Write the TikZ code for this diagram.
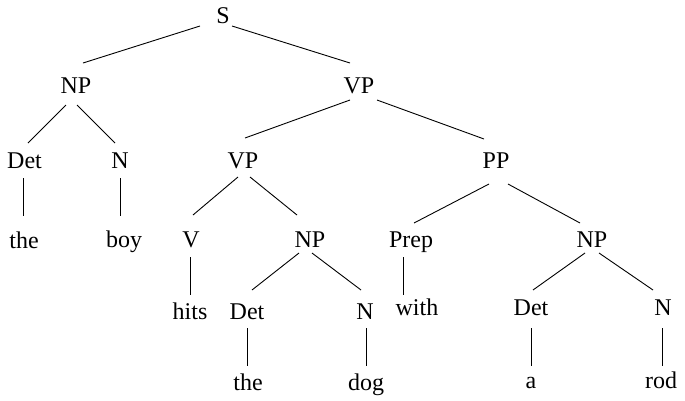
\documentclass[tikz,border=0pt]{standalone}
\usepackage{fontspec}
\setmainfont{Liberation Serif}
\usetikzlibrary{calc}
\begin{document}
\begin{tikzpicture}[x=1pt,y=-1pt,
  lbl/.style={inner sep=0pt, anchor=base, font=\fontsize{24}{28}\selectfont},
  edge/.style={line width=0.9pt}]
\useasboundingbox (0,0) rectangle (685,400);
% nodes (base points)
\node[lbl] (S) at (223,23) {S};
\node[lbl] (NPa) at (76,93) {NP};
\node[lbl] (VPa) at (359,93) {VP};
\node[lbl] (Deta) at (24.5,168) {Det};
\node[lbl] (Na) at (120,168) {N};
\node[lbl] (VPb) at (243,168) {VP};
\node[lbl] (PP) at (496,168) {PP};
\node[lbl] (thea) at (24,248) {the};
\node[lbl] (boy) at (124,247) {boy};
\node[lbl] (V) at (191,247) {V};
\node[lbl] (NPb) at (310,247) {NP};
\node[lbl] (Prep) at (411,247) {Prep};
\node[lbl] (NPc) at (592,247) {NP};
\node[lbl] (hits) at (190,319) {hits};
\node[lbl] (Detb) at (247,319) {Det};
\node[lbl] (Nb) at (365,319) {N};
\node[lbl] (with) at (417,315) {with};
\node[lbl] (Detc) at (531,315) {Det};
\node[lbl] (Nc) at (663,315) {N};
\node[lbl] (theb) at (248,390) {the};
\node[lbl] (dog) at (366,390) {dog};
\node[lbl] (a) at (531,388) {a};
\node[lbl] (rod) at (661,388) {rod};
% edges
\draw[edge] ($(S.base)+(-23,3)$) -- ($(NPa.base)+(7,-30)$);
\draw[edge] ($(S.base)+(9,3)$) -- ($(VPa.base)+(-9,-30)$);
\draw[edge] ($(NPa.base)+(-10,12)$) -- ($(Deta.base)+(3.5,-25)$);
\draw[edge] ($(NPa.base)+(1,12)$) -- ($(Na.base)+(-5,-25)$);
\draw[edge] ($(VPa.base)+(-9,7)$) -- ($(VPb.base)+(2,-30)$);
\draw[edge] ($(VPa.base)+(18,7)$) -- ($(PP.base)+(-12,-29)$);
\draw[edge] ($(Deta.base)+(-1.5,10)$) -- ($(thea.base)+(-1,-32)$);
\draw[edge] ($(Na.base)+(0,10)$) -- ($(boy.base)+(-4,-31)$);
\draw[edge] ($(VPb.base)+(-5,9)$) -- ($(V.base)+(2,-32)$);
\draw[edge] ($(VPb.base)+(7,9)$) -- ($(NPb.base)+(-13,-32)$);
\draw[edge] ($(PP.base)+(-7,16)$) -- ($(Prep.base)+(3,-24)$);
\draw[edge] ($(PP.base)+(12,16)$) -- ($(NPc.base)+(-12,-24)$);
\draw[edge] ($(V.base)+(-1,10)$) -- ($(hits.base)+(0,-24)$);
\draw[edge] ($(NPb.base)+(-11,6)$) -- ($(Detb.base)+(5,-29)$);
\draw[edge] ($(NPb.base)+(2,6)$) -- ($(Nb.base)+(-4,-29)$);
\draw[edge] ($(Prep.base)+(-8,10)$) -- ($(with.base)+(-14,-20)$);
\draw[edge] ($(NPc.base)+(-7,6)$) -- ($(Detc.base)+(2,-25)$);
\draw[edge] ($(NPc.base)+(7,6)$) -- ($(Nc.base)+(-10,-25)$);
\draw[edge] ($(Detb.base)+(0,9)$) -- ($(theb.base)+(-1,-24)$);
\draw[edge] ($(Nb.base)+(1,9)$) -- ($(dog.base)+(0,-24)$);
\draw[edge] ($(Detc.base)+(0,13)$) -- ($(a.base)+(0,-22)$);
\draw[edge] ($(Nc.base)+(-1,13)$) -- ($(rod.base)+(1,-22)$);
\end{tikzpicture}
\end{document}
